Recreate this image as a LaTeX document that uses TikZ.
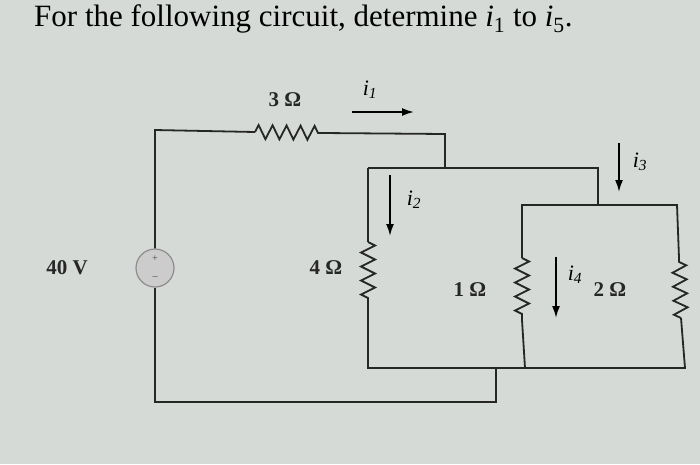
\documentclass[tikz,border=0pt]{standalone}
\usepackage{fontspec}
\setmainfont{Liberation Serif}
\usetikzlibrary{decorations.pathmorphing,arrows.meta}
\begin{document}
\begin{tikzpicture}[x=1pt,y=-1pt,
  wire/.style={line width=1.8pt,color=black!85},
  res/.style={wire,decorate,decoration={zigzag,segment length=14pt,amplitude=7pt}},
  cur/.style={line width=1.8pt,-{Latex[length=12pt,width=8pt]}},
  lbl/.style={font=\fontsize{21}{21}\selectfont\bfseries,text=black!85},
  ilbl/.style={font=\fontsize{22}{22}\selectfont\itshape}]
\fill[color={rgb,255:red,214;green,218;blue,215}] (0,0) rectangle (700,464);
\useasboundingbox (0,0) rectangle (700,464);
\node[anchor=west,font=\fontsize{31}{31}\selectfont,inner sep=0pt] (title) at (34,19) {For the following circuit, determine \textit{i}\textsubscript{1} to \textit{i}\textsubscript{5}.};
\coordinate (tl) at (155,130);
\coordinate (r3a) at (255,132);
\coordinate (r3b) at (322,133);
\coordinate (tr) at (445,134);
\coordinate (n1) at (445,168);
\coordinate (a1) at (368,168);
\coordinate (n2) at (598,168);
\coordinate (r4a) at (368,242);
\coordinate (r4b) at (368,302);
\coordinate (bl4) at (368,368);
\coordinate (n3) at (598,205);
\coordinate (a3) at (522,205);
\coordinate (b3) at (677,205);
\coordinate (r1a) at (522,258);
\coordinate (r1b) at (522,320);
\coordinate (bm1) at (525,368);
\coordinate (r2a) at (679,258);
\coordinate (r2b) at (681,318);
\coordinate (br) at (685,368);
\coordinate (bm) at (496,368);
\coordinate (bb) at (496,402);
\coordinate (bl) at (155,402);
\node[circle,draw=black!45,line width=1.2pt,fill=black!20,minimum size=38pt,inner sep=0pt] (src) at (155,268) {};
\node[font=\bfseries,text=black!60] at (155,259) {+};
\node[font=\bfseries,text=black!60] at (155,278) {--};
\draw[wire] (src.north) -- (tl) -- (r3a);
\draw[res] (r3a) -- (r3b);
\draw[wire] (r3b) -- (tr) -- (n1);
\draw[wire] (a1) -- (n2) -- (n3);
\draw[wire] (a1) -- (r4a);
\draw[res] (r4a) -- (r4b);
\draw[wire] (r4b) -- (bl4) -- (br) -- (r2b);
\draw[res] (r2b) -- (r2a);
\draw[wire] (r2a) -- (b3) -- (a3) -- (r1a);
\draw[res] (r1a) -- (r1b);
\draw[wire] (r1b) -- (bm1);
\draw[wire] (bm) -- (bb) -- (bl) -- (src.south);
\node[lbl] (l40) at (67,268) {40 V};
\node[lbl] (l3) at (285,100) {3 Ω};
\node[lbl] (l4) at (326,268) {4 Ω};
\node[lbl] (l1) at (470,290) {1 Ω};
\node[lbl] (l2) at (610,290) {2 Ω};
\coordinate (i1a) at (352,112); \coordinate (i1b) at (414,112);
\draw[cur] (i1a) -- (i1b);
\node[ilbl] (li1) at (370,90) {i\textsubscript{1}};
\coordinate (i2a) at (390,175); \coordinate (i2b) at (390,236);
\draw[cur] (i2a) -- (i2b);
\node[ilbl] (li2) at (414,200) {i\textsubscript{2}};
\coordinate (i3a) at (619,143); \coordinate (i3b) at (619,192);
\draw[cur] (i3a) -- (i3b);
\node[ilbl] (li3) at (640,162) {i\textsubscript{3}};
\coordinate (i4a) at (556,257); \coordinate (i4b) at (556,318);
\draw[cur] (i4a) -- (i4b);
\node[ilbl] (li4) at (575,275) {i\textsubscript{4}};
\end{tikzpicture}
\end{document}
